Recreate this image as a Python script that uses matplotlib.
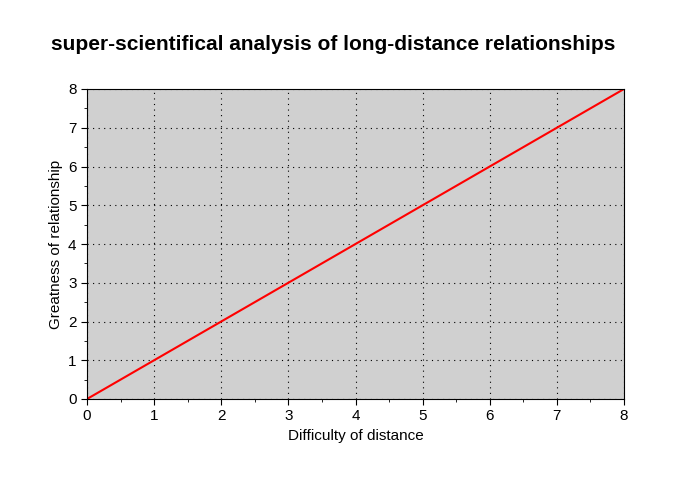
import matplotlib
matplotlib.use("Agg")
import matplotlib.pyplot as plt
from matplotlib.ticker import MultipleLocator

plt.rcParams['font.family'] = ['Liberation Sans', 'DejaVu Sans']

x_vals = [0, 8]
y_vals = [0, 8]

fig = plt.figure(figsize=(6.95, 5.03), dpi=100)
ax = fig.add_axes([87/695, 1-399/503, (624-87)/695, (399-89)/503])
ax.set_facecolor("#d0d0d0")
ax.plot(x_vals, y_vals, color="red", lw=1.5)
ax.set_xlim(0, 8); ax.set_ylim(0, 8)
ax.xaxis.set_major_locator(MultipleLocator(1))
ax.yaxis.set_major_locator(MultipleLocator(1))
ax.xaxis.set_minor_locator(MultipleLocator(0.5))
ax.yaxis.set_minor_locator(MultipleLocator(0.5))
ax.grid(True, which="major", color="black", linestyle=(0, (1, 4)), lw=0.8)
ax.tick_params(which="both", direction="out", labelsize=11)
ax.tick_params(which="major", length=4)
ax.tick_params(which="minor", length=2)
ax.set_xlabel("Difficulty of distance", fontsize=11)
ax.set_ylabel("Greatness of relationship", fontsize=11)
fig.text(333/695, 1-45/503, "super-scientifical analysis of long-distance relationships",
         ha="center", va="center", fontsize=15, fontweight="bold")
fig.savefig("out.png", dpi=100)
